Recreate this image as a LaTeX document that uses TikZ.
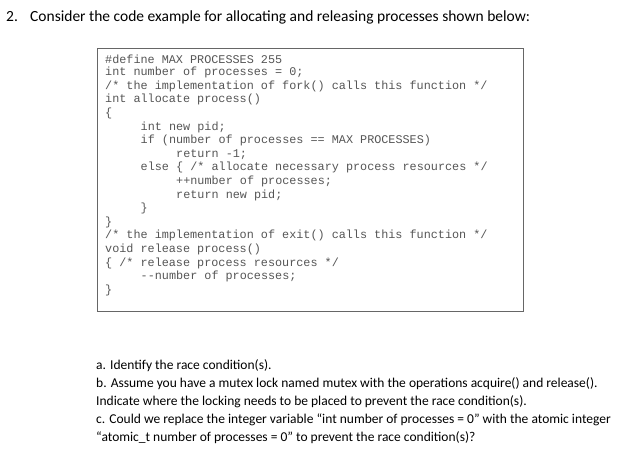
\documentclass[tikz,border=0pt]{standalone}
\usepackage{fontspec}
\setmainfont{Carlito}
\newfontfamily\codefont{Liberation Mono}
\definecolor{codegray}{HTML}{555555}
\begin{document}
\begin{tikzpicture}[x=1pt,y=-1pt,
  qtext/.style={anchor=west,inner sep=0pt,font=\fontsize{13.5}{16}\selectfont},
  ttext/.style={anchor=west,inner sep=0pt,font=\fontsize{15.5}{18}\selectfont},
  code/.style={anchor=west,inner sep=0pt,font=\codefont\fontsize{11.8}{13}\selectfont,text=codegray}]
\useasboundingbox (0,0) rectangle (630,454);
\node[ttext] (num) at (6,17) {2.};
\node[ttext] (title) at (30,17) {Consider the code example for allocating and releasing processes shown below:};
\draw[draw=gray!80!black,line width=0.8pt] (97,48) rectangle (523,311);
\def\ch{7.1}
\foreach \i/\ind/\t in {0/0/{\#define MAX PROCESSES 255},1/0/{int number of processes = 0;},
 2/0/{/* the implementation of fork() calls this function */},3/0/{int allocate process()},
 4/0/{\{},5/5/{int new pid;},6/5/{if (number of processes == MAX PROCESSES)},7/10/{return -1;},
 8/5/{else \{ /* allocate necessary process resources */},9/10/{++number of processes;},
 10/10/{return new pid;},11/5/{\}},12/0/{\}},13/0/{/* the implementation of exit() calls this function */},
 14/0/{void release process()},15/0/{\{ /* release process resources */},16/5/{{-}{-}number of processes;},17/0/{\}}}
 \node[code] (c\i) at ({105+\ind*\ch},{59+\i*13.6}) {\t};
\node[qtext] (qa) at (96,366) {a. Identify the race condition(s).};
\node[qtext] (qb) at (96,384) {b. Assume you have a mutex lock named mutex with the operations acquire() and release().};
\node[qtext] (qb2) at (96,402) {Indicate where the locking needs to be placed to prevent the race condition(s).};
\node[qtext] (qc) at (96,420) {c. Could we replace the integer variable “int number of processes = 0” with the atomic integer};
\node[qtext] (qc2) at (96,438) {“atomic\_t number of processes = 0” to prevent the race condition(s)?};
\end{tikzpicture}
\end{document}
